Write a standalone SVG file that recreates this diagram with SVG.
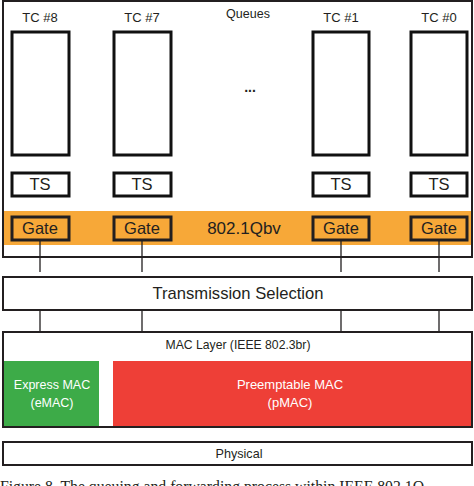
<svg xmlns="http://www.w3.org/2000/svg" width="474" height="486" viewBox="0 0 474 486">
<style>
text{font-family:"Liberation Sans",Arial,sans-serif;fill:#231f20;text-anchor:middle}
.frame{fill:#fff;stroke:#231f20;stroke-width:2}
.q{fill:#fff;stroke:#111;stroke-width:3}
.gate{fill:#f7a838;stroke:#231f20;stroke-width:3}
.conn{stroke:#231f20;stroke-width:1.3;fill:none}
.tc{font-size:13px}
.ts{font-size:16.5px}
.g{font-size:16.5px}
.w{fill:#fff;font-size:12.5px}
.cap{font-family:"Liberation Serif","Times New Roman",serif;font-size:16px;text-anchor:start}
</style>
<g id="bridge">
<rect class="frame" x="3" y="1" width="469" height="256"/>
<rect x="4" y="211" width="467" height="34" fill="#f7a838"/>
<text x="248" y="18" style="font-size:12.5px">Queues</text>
<text x="250" y="92" style="font-size:14px;font-weight:bold">...</text>
<text x="244" y="234" style="font-size:17px">802.1Qbv</text>
</g>
<g id="tc8">
<text class="tc" x="40" y="22">TC #8</text>
<rect class="q" x="12" y="32" width="57" height="123"/>
<rect class="q" x="12" y="173" width="57" height="23"/>
<text class="ts" x="40" y="190">TS</text>
<rect class="gate" x="12" y="217" width="57" height="23"/>
<text class="g" x="40" y="234">Gate</text>
</g>
<g id="tc7">
<text class="tc" x="142" y="22">TC #7</text>
<rect class="q" x="114" y="32" width="57" height="123"/>
<rect class="q" x="114" y="173" width="57" height="23"/>
<text class="ts" x="142" y="190">TS</text>
<rect class="gate" x="114" y="217" width="57" height="23"/>
<text class="g" x="142" y="234">Gate</text>
</g>
<g id="tc1">
<text class="tc" x="341" y="22">TC #1</text>
<rect class="q" x="313" y="32" width="56" height="123"/>
<rect class="q" x="313" y="173" width="56" height="23"/>
<text class="ts" x="341" y="190">TS</text>
<rect class="gate" x="313" y="217" width="56" height="23"/>
<text class="g" x="341" y="234">Gate</text>
</g>
<g id="tc0">
<text class="tc" x="439" y="22">TC #0</text>
<rect class="q" x="411" y="32" width="56" height="123"/>
<rect class="q" x="411" y="173" width="56" height="23"/>
<text class="ts" x="439" y="190">TS</text>
<rect class="gate" x="411" y="217" width="56" height="23"/>
<text class="g" x="439" y="234">Gate</text>
</g>
<g id="connectors">
<path class="conn" d="M40 241V272M142 241V272M341 241V272M439 241V272M40 311V353M142 311V353M341 311V353M439 311V353"/>
</g>
<g id="transmission-selection">
<rect class="frame" x="3" y="277" width="469" height="33"/>
<text x="238" y="299" style="font-size:16.6px">Transmission Selection</text>
</g>
<g id="mac-layer">
<rect class="frame" x="3" y="332" width="469" height="95"/>
<text x="238" y="349" style="font-size:12.2px">MAC Layer (IEEE 802.3br)</text>
<rect x="4" y="361" width="95" height="65" fill="#3dab48"/>
<text class="w" x="52" y="389">Express MAC</text>
<text class="w" x="52" y="407">(eMAC)</text>
<rect x="113" y="361" width="358" height="65" fill="#ee3f37"/>
<text class="w" x="290" y="389" style="font-size:13px">Preemptable MAC</text>
<text class="w" x="290" y="407" style="font-size:13px">(pMAC)</text>
</g>
<g id="physical">
<rect class="frame" x="3" y="442" width="469" height="23"/>
<text x="239" y="458" style="font-size:12.6px">Physical</text>
</g>
<text class="cap" x="0" y="492" textLength="424" lengthAdjust="spacingAndGlyphs">Figure 8. The queuing and forwarding process within IEEE 802.1Q</text>
</svg>
